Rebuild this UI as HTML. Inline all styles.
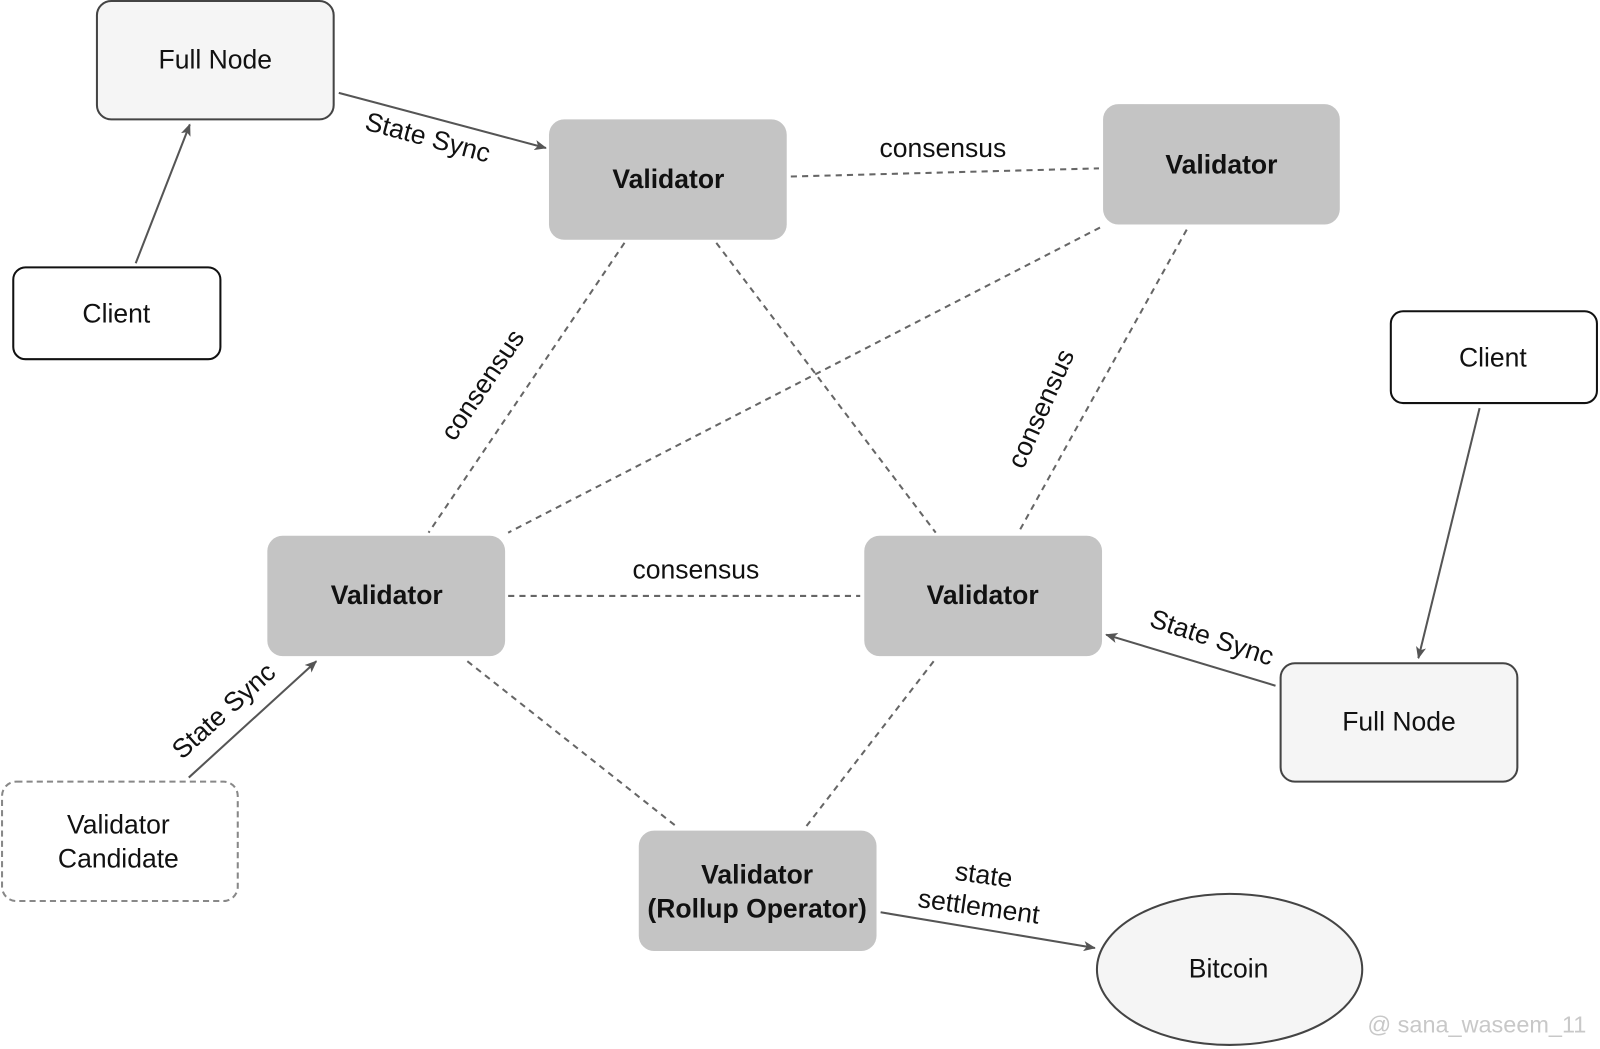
<!DOCTYPE html>
<html><head><meta charset="utf-8"><style>
body{margin:0;background:#fff;}
svg{display:block;font-family:"Liberation Sans",sans-serif;}
</style></head><body>
<svg width="1600" height="1049" viewBox="0 0 1568 1028" preserveAspectRatio="none" xmlns="http://www.w3.org/2000/svg">
<defs><marker id="a" markerWidth="12" markerHeight="10" refX="11" refY="5" orient="auto" markerUnits="userSpaceOnUse"><path d="M0,0 L12,5 L0,10 L3,5 Z" fill="#555"/></marker></defs>
<g stroke="#666" stroke-width="2" stroke-dasharray="6,5" fill="none">
<line x1="775" y1="173" x2="1077" y2="165"/>
<line x1="612" y1="238" x2="420" y2="522"/>
<line x1="702" y1="238" x2="917" y2="522"/>
<line x1="1078" y1="223" x2="498" y2="522"/>
<line x1="1163" y1="225" x2="998" y2="522"/>
<line x1="498" y1="584" x2="843" y2="584"/>
<line x1="458" y1="648" x2="663" y2="810"/>
<line x1="915" y1="648" x2="790" y2="810"/>
</g>
<g stroke="#555" stroke-width="2" fill="none" marker-end="url(#a)">
<line x1="133" y1="258" x2="186" y2="122"/>
<line x1="332" y1="91" x2="535" y2="145"/>
<line x1="1450" y1="400" x2="1390" y2="645"/>
<line x1="1250" y1="672" x2="1084" y2="622"/>
<line x1="185" y1="762" x2="310" y2="648"/>
<line x1="863" y1="894" x2="1073" y2="929"/>
</g>
<g stroke="#444" stroke-width="2">
<rect x="95" y="1" width="232" height="116" rx="14" fill="#f5f5f5"/>
<rect x="13" y="262" width="203" height="90" rx="12" fill="#fff" stroke="#111"/>
<rect x="1363" y="305" width="202" height="90" rx="12" fill="#fff" stroke="#111"/>
<rect x="1255" y="650" width="232" height="116" rx="14" fill="#f5f5f5"/>
<rect x="2" y="766" width="231" height="117" rx="14" fill="#fff" stroke="#888" stroke-dasharray="6,4"/>
<ellipse cx="1205" cy="950" rx="130" ry="74" fill="#f5f5f5"/>
</g>
<g fill="#c4c4c4">
<rect x="538" y="117" width="233" height="118" rx="15"/>
<rect x="1081" y="102" width="232" height="118" rx="15"/>
<rect x="262" y="525" width="233" height="118" rx="15"/>
<rect x="847" y="525" width="233" height="118" rx="15"/>
<rect x="626" y="814" width="233" height="118" rx="15"/>
</g>
<g font-size="26" text-anchor="middle" fill="#111">
<text x="211" y="67">Full Node</text>
<text x="114" y="316">Client</text>
<text x="1463" y="359">Client</text>
<text x="1371" y="716">Full Node</text>
<text x="116" y="817">Validator</text>
<text x="116" y="850">Candidate</text>
<text x="1204" y="958">Bitcoin</text>
<g font-weight="bold">
<text x="655" y="184">Validator</text>
<text x="1197" y="170">Validator</text>
<text x="379" y="592">Validator</text>
<text x="963" y="592">Validator</text>
<text x="742" y="866">Validator</text>
<text x="742" y="899">(Rollup Operator)</text>
</g>
<text x="924" y="154">consensus</text>
<text x="682" y="567">consensus</text>
<text transform="translate(480,382) rotate(-56)">consensus</text>
<text transform="translate(1028,404) rotate(-66)">consensus</text>
<text transform="translate(417,143) rotate(15)">State Sync</text>
<text transform="translate(1185,633) rotate(18)">State Sync</text>
<text transform="translate(225,703) rotate(-42)">State Sync</text>
<text transform="translate(963,866) rotate(8)">state</text>
<text transform="translate(958,897) rotate(8)">settlement</text>
</g>
<text x="1340" y="1012" font-size="23" fill="#c8c8c8">@ sana_waseem_11</text>
</svg>
</body></html>
